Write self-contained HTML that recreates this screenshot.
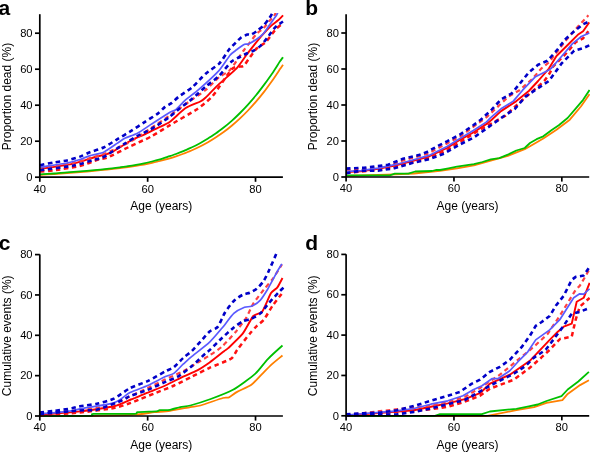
<!DOCTYPE html>
<html><head><meta charset="utf-8"><style>
html,body{margin:0;padding:0;background:#fff;width:590px;height:452px;overflow:hidden}
svg{display:block;will-change:transform}
</style></head><body>
<svg width="590" height="452" viewBox="0 0 590 452">
<defs>
<clipPath id="ca"><rect x="39.8" y="13" width="250" height="165"/></clipPath>
<clipPath id="cb"><rect x="346.1" y="13" width="250" height="165"/></clipPath>
<clipPath id="cc"><rect x="39.8" y="250" width="250" height="167"/></clipPath>
<clipPath id="cd"><rect x="346.1" y="250" width="250" height="167"/></clipPath>
</defs>
<rect width="590" height="452" fill="#fff"/>
<g clip-path="url(#ca)" fill="none" stroke-linejoin="round">
<path d="M40.0,174.8 C41.6,174.7 51.0,174.2 54.0,174.0 C57.0,173.8 64.2,173.2 67.1,173.0 C70.0,172.8 77.0,172.2 80.0,172.0 C83.0,171.8 91.2,171.1 94.2,170.8 C97.2,170.5 104.1,169.8 107.0,169.5 C109.9,169.2 117.7,168.3 120.0,168.0 C122.3,167.7 126.2,167.2 128.0,167.0 C129.8,166.8 134.2,166.1 136.0,165.8 C137.8,165.5 142.2,164.8 144.0,164.5 C145.8,164.2 150.2,163.3 152.0,162.9 C153.8,162.5 158.2,161.5 160.0,161.0 C161.8,160.5 166.2,159.3 168.0,158.8 C169.8,158.3 174.2,157.0 176.0,156.4 C177.8,155.8 182.2,154.2 184.0,153.5 C185.8,152.8 190.2,151.1 192.0,150.3 C193.8,149.5 198.2,147.4 200.0,146.5 C201.8,145.6 206.2,143.2 208.0,142.2 C209.8,141.2 214.2,138.5 216.0,137.3 C217.8,136.1 222.2,133.1 224.0,131.8 C225.8,130.5 230.2,127.0 232.0,125.5 C233.8,124.0 238.2,120.1 240.0,118.4 C241.8,116.7 246.2,112.4 248.0,110.5 C249.8,108.6 254.2,103.8 256.0,101.7 C257.8,99.6 262.2,94.2 264.0,91.9 C265.8,89.6 270.2,83.5 272.0,81.0 C273.8,78.5 278.8,70.9 280.0,69.1 C281.2,67.3 282.7,65.3 283.0,64.8" stroke="#ff8000" stroke-width="1.8"/>
<path d="M40.0,174.4 C41.6,174.3 51.0,173.7 54.0,173.5 C57.0,173.3 64.2,172.6 67.1,172.4 C70.0,172.2 77.0,171.6 80.0,171.4 C83.0,171.2 91.2,170.5 94.2,170.2 C97.2,169.9 104.1,169.2 107.0,168.9 C109.9,168.6 117.7,167.6 120.0,167.3 C122.3,167.0 126.2,166.5 128.0,166.2 C129.8,165.9 134.2,165.2 136.0,164.9 C137.8,164.6 142.2,163.8 144.0,163.4 C145.8,163.0 150.2,162.0 152.0,161.5 C153.8,161.0 158.2,159.8 160.0,159.3 C161.8,158.8 166.2,157.3 168.0,156.7 C169.8,156.1 174.2,154.7 176.0,154.0 C177.8,153.3 182.2,151.5 184.0,150.8 C185.8,150.1 190.2,148.1 192.0,147.3 C193.8,146.5 198.2,144.2 200.0,143.2 C201.8,142.2 206.2,139.6 208.0,138.5 C209.8,137.4 214.2,134.5 216.0,133.3 C217.8,132.1 222.2,128.7 224.0,127.3 C225.8,125.9 230.2,122.2 232.0,120.6 C233.8,119.0 238.2,114.8 240.0,113.0 C241.8,111.2 246.2,106.6 248.0,104.6 C249.8,102.6 254.2,97.5 256.0,95.3 C257.8,93.1 262.2,87.3 264.0,84.9 C265.8,82.5 270.2,76.3 272.0,73.7 C273.8,71.1 278.8,63.1 280.0,61.3 C281.2,59.5 282.7,57.7 283.0,57.2" stroke="#00c000" stroke-width="1.8"/>
<path d="M40.0,169.0 C43.7,168.4 67.5,164.9 73.6,163.6 C79.7,162.3 90.9,158.2 95.0,157.0 C99.1,155.8 106.3,154.7 110.3,152.9 C114.3,151.1 126.9,142.7 130.7,140.7 C134.5,138.7 141.2,136.0 144.2,134.6 C147.2,133.2 154.9,129.2 157.8,127.8 C160.7,126.4 166.9,123.9 170.0,121.7 C173.1,119.5 181.9,110.5 185.3,108.3 C188.7,106.1 198.0,102.7 200.3,101.5 C202.6,100.3 203.6,99.5 205.7,97.5 C207.8,95.5 215.8,87.1 219.2,83.9 C222.6,80.7 233.5,71.7 236.6,68.4 C239.7,65.1 245.1,56.7 247.3,53.8 C249.5,50.9 254.7,44.3 256.6,41.9 C258.5,39.5 262.7,34.5 264.5,32.6 C266.3,30.7 271.0,25.9 272.5,24.6 C274.0,23.3 276.6,21.6 277.8,20.6 C279.0,19.6 282.5,15.9 283.1,15.3" stroke="#ff0000" stroke-width="1.9"/>
<path d="M40.0,168.2 C43.7,167.6 67.5,164.1 73.6,162.8 C79.7,161.5 91.6,157.5 95.0,156.5 C98.4,155.5 100.0,155.7 104.0,154.0 C108.0,152.3 125.8,144.2 130.7,141.5 C135.6,138.8 144.1,132.6 148.3,129.8 C152.5,127.0 164.0,119.5 168.6,116.3 C173.2,113.1 185.9,103.9 190.0,101.0 C194.1,98.1 202.5,92.7 205.7,90.0 C208.9,87.3 216.5,79.3 219.2,77.1 C221.9,74.9 227.3,72.9 230.0,70.0 C232.7,67.1 240.3,55.0 243.3,51.0 C246.3,47.0 254.4,36.4 256.6,33.9 C258.8,31.4 261.7,30.1 263.2,28.6 C264.7,27.1 268.6,21.9 269.8,20.6 C271.0,19.3 273.1,17.6 273.8,16.6 C274.5,15.6 275.8,12.5 276.0,12.0" stroke="#ff4040" stroke-width="2.2" stroke-dasharray="4.5 3.5"/>
<path d="M40.0,171.5 C41.5,171.4 49.1,171.0 53.6,170.4 C58.1,169.8 75.8,167.0 80.7,165.8 C85.6,164.6 95.0,160.4 98.0,159.5 C101.0,158.6 104.0,159.0 107.6,157.5 C111.2,156.0 125.9,148.4 130.7,146.1 C135.5,143.8 146.6,138.9 151.0,136.6 C155.4,134.3 165.0,128.1 170.0,125.1 C175.0,122.1 191.5,112.9 196.2,109.7 C200.9,106.5 208.5,100.6 212.5,96.1 C216.5,91.6 228.6,72.3 232.0,69.0 C235.4,65.7 241.5,67.1 243.3,66.0 C245.1,64.9 247.1,61.0 248.6,59.1 C250.1,57.2 254.7,50.4 256.6,48.5 C258.5,46.6 263.8,44.0 265.9,41.9 C268.0,39.8 273.3,32.0 275.2,29.9 C277.1,27.8 282.1,23.8 283.0,23.0" stroke="#ff1010" stroke-width="2.5" stroke-dasharray="4.5 3.5"/>
<path d="M40.0,167.2 C43.0,166.7 62.7,163.9 67.1,163.0 C71.5,162.1 77.5,160.3 80.0,159.5 C82.5,158.7 87.4,156.4 90.0,155.6 C92.6,154.8 100.6,153.6 103.6,152.2 C106.6,150.8 114.7,145.0 117.1,143.4 C119.5,141.8 123.0,139.1 125.3,138.0 C127.6,136.9 134.6,134.7 137.5,133.2 C140.4,131.7 147.4,126.7 151.0,124.4 C154.6,122.1 167.2,113.8 170.0,112.2 C172.8,110.6 174.1,111.0 175.8,109.7 C177.5,108.4 182.7,102.5 185.3,100.2 C187.9,97.9 195.1,92.6 198.9,89.3 C202.7,86.0 215.7,74.1 219.2,70.3 C222.7,66.5 228.1,57.5 230.0,55.2 C231.9,52.9 235.0,51.0 236.6,49.8 C238.2,48.6 243.3,45.0 244.6,44.3 C245.9,43.6 247.3,44.5 248.6,43.9 C249.9,43.3 255.0,40.3 256.6,39.2 C258.2,38.1 261.7,35.5 263.2,33.9 C264.7,32.3 268.3,26.7 269.8,24.6 C271.3,22.5 275.6,16.7 276.5,15.3 C277.4,13.9 277.8,12.4 278.0,12.0" stroke="#5a5aff" stroke-width="1.7"/>
<path d="M40.0,165.2 C41.5,164.9 50.6,163.0 53.6,162.5 C56.6,162.0 64.1,161.1 67.1,160.4 C70.1,159.7 78.2,157.3 80.7,156.4 C83.2,155.5 87.5,153.2 90.0,152.2 C92.5,151.2 100.6,148.9 103.6,147.5 C106.6,146.1 114.1,141.1 117.1,139.3 C120.1,137.5 127.7,133.1 130.7,131.2 C133.7,129.3 141.2,124.4 144.2,122.4 C147.2,120.4 155.5,115.3 157.8,113.6 C160.1,111.9 163.4,108.1 165.0,106.9 C166.6,105.7 170.3,104.0 171.8,102.9 C173.3,101.8 176.3,98.5 178.6,96.8 C180.9,95.1 189.1,89.9 192.1,87.3 C195.1,84.7 202.7,76.3 205.7,73.7 C208.7,71.1 216.6,66.2 219.2,63.6 C221.8,61.0 227.5,51.7 228.7,50.0 C229.9,48.3 228.7,49.8 230.0,48.5 C231.3,47.2 238.7,39.4 240.6,37.9 C242.5,36.4 246.1,35.0 247.3,34.6 C248.5,34.2 250.2,35.0 251.2,34.6 C252.2,34.2 255.3,32.2 256.6,31.2 C257.9,30.2 261.9,27.2 263.2,25.9 C264.5,24.6 267.6,20.5 268.5,19.3 C269.4,18.1 270.7,16.1 271.2,15.3 C271.7,14.5 272.8,12.4 273.0,12.0" stroke="#0000c8" stroke-width="2.6" stroke-dasharray="4.5 3.5"/>
<path d="M40.0,170.2 C43.7,169.7 67.5,166.7 73.6,165.5 C79.7,164.3 91.7,160.5 95.0,159.6 C98.3,158.7 100.4,158.7 103.6,157.0 C106.8,155.3 120.1,146.4 123.9,144.1 C127.7,141.8 134.5,137.6 137.5,135.9 C140.5,134.2 147.5,131.2 151.0,129.2 C154.5,127.2 165.4,119.9 168.6,117.6 C171.8,115.3 177.3,110.4 179.9,108.3 C182.5,106.2 189.2,101.2 192.1,98.8 C195.0,96.4 202.7,89.2 205.7,86.6 C208.7,84.0 216.4,78.6 219.2,75.8 C222.0,73.0 228.9,63.9 231.3,61.8 C233.7,59.7 238.8,57.5 240.6,56.5 C242.4,55.5 245.8,53.9 247.3,53.2 C248.8,52.5 252.4,51.3 253.9,50.5 C255.4,49.7 259.0,47.3 260.5,45.9 C262.0,44.5 265.6,40.0 267.2,37.9 C268.8,35.8 273.4,29.1 275.2,27.3 C277.0,25.5 282.1,22.1 283.0,21.5" stroke="#0000c8" stroke-width="2.6" stroke-dasharray="4.5 3.5"/>
</g>
<g clip-path="url(#cb)" fill="none" stroke-linejoin="round">
<polyline points="346.0,176.0 394.8,174.4 414.0,173.5 440.0,170.8 457.0,168.3 473.9,165.4 490.8,160.7 507.8,155.9 524.7,149.2 530.0,146.3 543.3,138.5 556.5,129.7 569.8,119.7 580.9,106.5 589.5,94.2" stroke="#ff8000" stroke-width="1.8"/>
<polyline points="346.0,175.4 389.8,175.4 394.8,173.7 408.4,173.7 415.2,171.5 432.1,171.0 436.5,169.9 440.0,170.0 448.5,168.3 457.0,166.6 465.4,165.4 473.9,164.1 482.4,162.0 490.8,159.3 499.3,158.1 507.8,154.7 516.3,150.5 524.7,148.0 530.0,143.0 536.6,139.2 543.3,136.3 552.1,129.7 558.8,125.3 567.6,118.0 576.5,107.6 583.1,99.8 589.5,90.0" stroke="#00c000" stroke-width="1.8"/>
<polyline points="346.0,172.0 361.0,171.2 378.0,168.8 395.0,165.5 412.0,161.0 429.0,156.5 447.0,148.0 460.0,139.8 473.3,132.5 486.6,123.9 491.7,119.7 501.0,111.1 516.4,101.1 528.8,91.0 538.1,81.0 548.9,68.6 556.5,56.0 565.4,47.2 577.8,34.8 583.1,31.2 589.3,22.4" stroke="#ff0000" stroke-width="1.9"/>
<polyline points="346.0,170.0 364.0,169.0 388.0,166.0 403.0,160.5 427.0,154.0 447.0,143.5 460.0,136.5 486.6,117.2 490.0,114.0 508.7,96.4 519.5,90.2 531.9,79.4 541.2,68.6 548.9,62.4 565.4,41.0 577.8,26.8 588.4,15.3" stroke="#ff4040" stroke-width="2.2" stroke-dasharray="4.5 3.5"/>
<polyline points="346.0,173.0 378.0,170.0 395.0,167.0 412.0,162.5 429.0,158.0 447.0,150.0 460.0,142.0 479.9,129.8 505.0,116.0 521.1,101.1 531.9,91.8 544.3,81.0 549.7,73.2 553.0,66.6 565.4,54.2 576.0,41.9 583.1,38.3 588.4,31.2" stroke="#ff1010" stroke-width="2.5" stroke-dasharray="4.5 3.5"/>
<polyline points="346.0,171.5 361.0,170.7 378.0,168.1 395.0,164.7 412.0,160.2 429.0,155.4 447.0,146.4 460.0,138.5 473.3,130.5 486.6,121.9 490.1,118.1 501.0,108.8 513.3,101.1 522.6,90.2 535.0,77.1 548.9,70.1 551.2,68.4 561.9,56.0 572.5,43.6 581.3,36.5 589.3,33.0" stroke="#5a5aff" stroke-width="1.7"/>
<polyline points="346.0,168.6 364.0,167.8 388.0,164.7 403.0,158.8 418.6,155.1 427.0,152.0 439.0,145.3 447.0,141.4 460.0,134.5 473.3,125.2 480.8,119.7 491.7,109.6 501.0,99.5 511.8,93.3 519.5,84.0 528.8,72.4 538.1,64.7 547.4,60.8 556.5,50.7 565.4,39.2 574.2,31.2 583.1,24.2 589.3,21.5" stroke="#0000c8" stroke-width="2.6" stroke-dasharray="4.5 3.5"/>
<polyline points="346.0,173.2 361.0,170.7 378.0,170.7 395.0,168.1 412.0,163.1 429.0,159.2 444.0,153.7 460.0,144.4 473.3,137.8 486.6,128.5 501.0,118.1 514.9,108.8 525.7,96.4 535.0,90.2 548.9,81.0 561.9,63.1 574.2,50.7 583.1,48.1 589.3,45.4" stroke="#0000c8" stroke-width="2.6" stroke-dasharray="4.5 3.5"/>
</g>
<g clip-path="url(#cc)" fill="none" stroke-linejoin="round">
<path d="M39.7,416.5 C45.9,416.4 84.8,416.0 95.3,415.8 C105.8,415.6 127.6,415.1 134.2,414.7 C140.8,414.3 150.6,412.6 154.6,412.2 C158.6,411.8 166.0,411.4 170.0,410.8 C174.0,410.2 186.9,407.7 190.3,407.1 C193.7,406.5 196.9,406.5 200.5,405.5 C204.1,404.5 219.7,398.9 222.9,398.0 C226.1,397.1 227.4,398.1 229.0,397.4 C230.6,396.7 234.6,393.3 237.1,391.9 C239.6,390.5 248.7,386.6 251.4,384.7 C254.1,382.8 259.2,376.9 261.5,374.6 C263.8,372.3 269.4,366.5 271.7,364.4 C274.0,362.3 281.3,356.5 282.5,355.5" stroke="#ff8000" stroke-width="1.8"/>
<path d="M39.7,416.0 C45.3,416.0 84.2,416.1 90.2,415.9 C96.2,415.7 88.7,414.1 93.6,413.9 C98.5,413.7 129.3,414.1 134.2,413.9 C139.1,413.7 135.1,412.5 137.6,412.2 C140.1,411.9 153.8,411.6 156.3,411.4 C158.8,411.2 158.2,410.4 159.7,410.2 C161.2,410.0 167.7,410.1 170.0,409.8 C172.3,409.5 177.9,407.6 180.2,407.1 C182.5,406.6 186.9,406.4 190.3,405.5 C193.7,404.6 206.0,400.7 210.7,399.0 C215.4,397.3 228.0,392.6 233.0,389.8 C238.0,387.0 251.6,377.0 255.4,373.6 C259.2,370.2 264.6,362.4 267.6,359.3 C270.6,356.2 280.8,347.0 282.5,345.5" stroke="#00c000" stroke-width="1.8"/>
<path d="M39.7,415.0 C44.2,414.6 71.8,412.3 80.0,411.4 C88.2,410.4 108.2,407.6 113.9,406.3 C119.5,405.0 128.5,400.4 130.8,399.5 C133.2,398.6 133.4,398.6 135.3,397.9 C137.2,397.1 144.4,393.9 147.7,392.6 C151.0,391.2 161.5,387.3 165.4,385.5 C169.3,383.7 179.6,378.3 183.1,376.6 C186.6,375.0 194.3,372.0 197.3,370.4 C200.2,368.9 206.6,364.6 209.6,362.5 C212.7,360.3 222.2,352.6 224.3,351.0 C226.4,349.4 226.5,349.8 228.5,347.9 C230.5,346.0 239.9,337.2 242.7,333.7 C245.5,330.2 251.1,318.5 253.3,316.0 C255.5,313.5 260.2,314.2 262.2,311.6 C264.2,309.0 269.3,295.7 271.0,293.0 C272.7,290.3 275.9,289.4 277.2,287.7 C278.5,286.0 281.9,279.1 282.5,278.0" stroke="#ff0000" stroke-width="1.9"/>
<path d="M39.7,414.5 C45.2,413.9 81.5,409.9 88.8,409.0 C96.1,408.1 102.0,407.6 105.8,406.5 C109.6,405.4 118.0,401.5 122.7,399.5 C127.4,397.5 143.0,390.4 147.7,388.1 C152.4,385.9 161.5,381.2 165.4,379.3 C169.3,377.4 179.2,373.4 183.1,371.3 C187.0,369.3 197.8,362.5 200.8,360.7 C203.7,358.9 207.3,357.0 209.6,355.4 C212.0,353.8 219.2,349.1 222.1,346.5 C225.0,343.9 232.9,335.2 235.6,332.0 C238.3,328.8 244.2,321.0 246.2,317.8 C248.2,314.6 251.3,306.7 253.3,303.6 C255.3,300.5 261.7,292.3 263.9,289.5 C266.1,286.7 270.8,281.6 272.8,278.8 C274.8,276.0 280.9,266.1 281.9,264.5" stroke="#ff4040" stroke-width="2.2" stroke-dasharray="4.5 3.5"/>
<path d="M39.7,415.5 C44.2,415.2 71.8,413.4 80.0,412.5 C88.2,411.7 108.2,409.0 113.9,408.0 C119.5,406.9 128.1,403.8 130.8,402.9 C133.6,402.0 136.0,400.8 138.8,399.6 C141.7,398.5 152.6,394.1 156.5,392.6 C160.5,391.0 170.3,387.3 174.2,385.5 C178.2,383.7 188.0,378.6 191.9,376.6 C195.9,374.7 205.3,369.8 209.6,367.8 C214.0,365.8 227.9,360.7 231.0,358.7 C234.1,356.7 235.3,352.4 237.4,349.6 C239.5,346.8 247.6,336.3 249.8,333.7 C252.0,331.1 255.3,327.4 256.9,325.8 C258.5,324.2 262.1,321.9 263.9,319.6 C265.7,317.3 270.8,308.3 272.8,305.4 C274.8,302.5 280.6,295.2 281.6,293.9" stroke="#ff1010" stroke-width="2.5" stroke-dasharray="4.5 3.5"/>
<path d="M39.7,413.9 C43.3,413.6 67.4,411.4 71.9,410.8 C76.4,410.2 75.3,409.7 80.0,408.8 C84.7,407.9 108.3,404.7 113.9,402.9 C119.5,401.1 126.2,394.5 130.0,392.6 C133.8,390.6 143.8,387.3 147.7,385.5 C151.6,383.7 162.4,378.0 165.4,376.6 C168.3,375.3 172.3,374.5 174.2,373.1 C176.2,371.7 181.1,366.1 183.1,364.2 C185.1,362.4 189.0,358.7 191.9,356.3 C194.9,353.8 206.3,345.3 209.6,342.1 C213.0,339.0 219.4,331.2 222.1,328.0 C224.8,324.8 231.3,315.7 233.8,313.4 C236.3,311.1 242.5,308.0 244.5,307.2 C246.5,306.4 249.7,307.1 251.5,306.3 C253.3,305.5 258.6,302.0 260.4,300.1 C262.2,298.2 265.5,292.8 267.5,289.5 C269.5,286.2 276.5,272.9 278.1,270.0 C279.7,267.1 281.5,264.5 281.9,263.8" stroke="#5a5aff" stroke-width="1.7"/>
<path d="M39.7,412.5 C41.4,412.3 51.4,411.3 55.0,410.8 C58.6,410.3 69.1,408.8 71.9,408.3 C74.7,407.8 77.2,406.8 80.0,406.3 C82.8,405.8 93.2,404.6 96.9,403.7 C100.7,402.9 110.2,400.4 113.9,398.6 C117.6,396.9 126.2,390.1 130.0,388.1 C133.8,386.2 143.8,382.9 147.7,381.1 C151.6,379.2 162.4,372.9 165.4,371.3 C168.3,369.8 172.3,368.4 174.2,366.9 C176.2,365.4 181.1,359.8 183.1,358.1 C185.1,356.3 190.0,352.8 191.9,351.0 C193.9,349.1 198.8,343.4 200.8,341.2 C202.8,339.1 207.8,333.1 209.6,331.5 C211.5,329.9 216.0,329.0 217.7,326.9 C219.4,324.8 223.2,315.4 225.0,312.5 C226.8,309.6 231.8,303.0 233.8,301.0 C235.8,299.0 240.9,295.7 242.7,294.8 C244.5,293.9 248.2,293.4 249.8,292.7 C251.4,292.0 255.3,289.9 256.9,288.6 C258.5,287.3 262.5,282.7 263.9,280.6 C265.3,278.5 267.8,273.0 269.2,270.0 C270.6,267.0 275.5,255.6 276.3,253.8" stroke="#0000c8" stroke-width="2.6" stroke-dasharray="4.5 3.5"/>
<path d="M39.7,414.0 C44.2,413.6 73.6,411.0 80.0,410.5 C86.4,410.0 92.2,410.8 96.9,409.7 C101.7,408.5 118.7,401.8 122.4,400.3 C126.0,398.8 127.2,397.3 130.0,396.1 C132.8,394.9 143.8,391.5 147.7,389.9 C151.6,388.3 162.1,383.4 165.4,381.9 C168.7,380.5 174.8,378.4 177.8,376.6 C180.7,374.9 189.0,368.5 191.9,366.0 C194.9,363.6 202.4,356.3 204.3,354.5 C206.3,352.7 207.7,351.9 209.6,350.1 C211.6,348.3 219.3,340.5 222.0,338.0 C224.7,335.5 231.5,329.4 233.8,327.5 C236.1,325.6 240.7,322.3 242.7,321.3 C244.7,320.3 249.5,319.6 251.5,318.7 C253.5,317.8 258.4,315.2 260.4,313.4 C262.4,311.6 267.2,305.0 269.2,302.7 C271.2,300.4 276.5,294.7 278.1,293.0 C279.7,291.3 282.8,288.3 283.4,287.7" stroke="#0000c8" stroke-width="2.6" stroke-dasharray="4.5 3.5"/>
</g>
<g clip-path="url(#cd)" fill="none" stroke-linejoin="round">
<polyline points="346.0,416.5 485.0,416.3 516.4,410.2 534.1,407.2 546.5,402.8 562.4,400.1 567.7,393.9 580.1,385.1 588.9,380.3" stroke="#ff8000" stroke-width="1.8"/>
<polyline points="346.0,416.3 433.5,416.3 440.0,414.2 481.9,414.2 489.8,411.5 516.4,408.8 528.8,406.3 537.7,404.5 546.5,401.0 561.5,396.2 567.7,389.5 578.3,381.5 588.9,371.8" stroke="#00c000" stroke-width="1.8"/>
<polyline points="346.0,415.5 413.9,410.2 430.8,406.8 447.8,403.4 464.7,399.2 480.0,393.2 489.9,383.7 509.8,374.7 529.8,360.8 549.7,339.9 557.8,331.7 563.7,326.7 571.7,323.7 576.7,301.8 583.7,297.8 589.6,282.9" stroke="#ff0000" stroke-width="1.9"/>
<polyline points="346.0,415.0 430.8,405.5 447.8,402.0 464.7,397.0 480.0,388.0 499.9,374.7 533.7,346.9 547.7,333.9 559.8,315.7 575.7,289.8 579.7,285.9 585.7,275.9 589.6,268.9" stroke="#ff4040" stroke-width="2.2" stroke-dasharray="4.5 3.5"/>
<polyline points="346.0,416.0 430.8,409.3 447.8,406.8 464.7,401.7 480.0,395.8 489.9,388.7 513.8,379.7 529.8,367.8 541.2,357.7 549.7,349.8 560.0,339.0 571.7,336.7 575.7,319.7 579.7,306.8 589.6,297.8" stroke="#ff1010" stroke-width="2.5" stroke-dasharray="4.5 3.5"/>
<polyline points="346.0,415.0 394.8,411.2 413.9,408.5 430.8,404.2 447.8,400.8 463.0,395.8 473.2,389.8 482.0,385.7 491.9,378.7 497.9,378.7 509.8,370.8 519.8,359.8 527.8,351.8 535.7,339.9 549.7,329.9 559.8,319.7 573.7,297.8 579.7,293.8 583.7,294.2 589.6,288.8" stroke="#5a5aff" stroke-width="1.7"/>
<polyline points="346.0,414.2 364.3,413.2 380.0,412.7 396.9,410.2 413.9,405.9 430.8,400.8 447.8,395.8 459.7,392.0 471.5,383.9 480.0,379.7 489.9,371.8 499.9,366.8 509.8,359.8 521.8,346.9 529.8,335.9 535.7,325.9 541.7,322.0 549.7,316.0 555.8,305.8 563.7,295.8 571.7,279.9 575.7,276.9 583.7,275.5 589.6,266.9" stroke="#0000c8" stroke-width="2.6" stroke-dasharray="4.5 3.5"/>
<polyline points="346.0,415.5 396.9,414.4 413.9,411.9 430.8,408.5 447.8,404.2 464.7,400.0 480.0,391.5 489.9,385.7 513.8,373.7 525.8,365.8 533.7,357.8 545.7,349.8 551.8,341.8 563.7,325.7 571.7,313.7 579.7,311.8 587.6,308.8 589.5,307.0" stroke="#0000c8" stroke-width="2.6" stroke-dasharray="4.5 3.5"/>
</g>
<g stroke="#000" stroke-width="1.7" fill="none">
<line x1="39.8" y1="14.2" x2="39.8" y2="181.79999999999998"/>
<line x1="38.949999999999996" y1="177.2" x2="282.9" y2="177.2"/>
<line x1="35.0" y1="177.20" x2="39.8" y2="177.20"/>
<line x1="35.0" y1="141.20" x2="39.8" y2="141.20"/>
<line x1="35.0" y1="105.20" x2="39.8" y2="105.20"/>
<line x1="35.0" y1="69.20" x2="39.8" y2="69.20"/>
<line x1="35.0" y1="33.20" x2="39.8" y2="33.20"/>
<line x1="147.66" y1="177.2" x2="147.66" y2="181.79999999999998"/>
<line x1="255.52" y1="177.2" x2="255.52" y2="181.79999999999998"/>
</g>
<g font-family="Liberation Sans, sans-serif" font-size="10" fill="#000">
<text transform="translate(32.60,180.90) scale(1.12,1)" text-anchor="end">0</text>
<text transform="translate(32.60,144.90) scale(1.12,1)" text-anchor="end">20</text>
<text transform="translate(32.60,108.90) scale(1.12,1)" text-anchor="end">40</text>
<text transform="translate(32.60,72.90) scale(1.12,1)" text-anchor="end">60</text>
<text transform="translate(32.60,36.90) scale(1.12,1)" text-anchor="end">80</text>
<text transform="translate(39.80,192.60) scale(1.12,1)" text-anchor="middle">40</text>
<text transform="translate(147.66,192.60) scale(1.12,1)" text-anchor="middle">60</text>
<text transform="translate(255.52,192.60) scale(1.12,1)" text-anchor="middle">80</text>
</g>
<text x="161.3" y="209.6" text-anchor="middle" font-family="Liberation Sans, sans-serif" font-size="12">Age (years)</text>
<text transform="translate(10.5,96.5) rotate(-90)" text-anchor="middle" font-family="Liberation Sans, sans-serif" font-size="12">Proportion dead (%)</text>
<text x="-1.6" y="14.6" font-family="Liberation Sans, sans-serif" font-size="21" font-weight="bold">a</text>
<g stroke="#000" stroke-width="1.7" fill="none">
<line x1="346.1" y1="14.2" x2="346.1" y2="181.6"/>
<line x1="345.25" y1="177.0" x2="589.2" y2="177.0"/>
<line x1="341.3" y1="177.00" x2="346.1" y2="177.00"/>
<line x1="341.3" y1="141.00" x2="346.1" y2="141.00"/>
<line x1="341.3" y1="105.00" x2="346.1" y2="105.00"/>
<line x1="341.3" y1="69.00" x2="346.1" y2="69.00"/>
<line x1="341.3" y1="33.00" x2="346.1" y2="33.00"/>
<line x1="453.96" y1="177.0" x2="453.96" y2="181.6"/>
<line x1="561.82" y1="177.0" x2="561.82" y2="181.6"/>
</g>
<g font-family="Liberation Sans, sans-serif" font-size="10" fill="#000">
<text transform="translate(338.90,180.70) scale(1.12,1)" text-anchor="end">0</text>
<text transform="translate(338.90,144.70) scale(1.12,1)" text-anchor="end">20</text>
<text transform="translate(338.90,108.70) scale(1.12,1)" text-anchor="end">40</text>
<text transform="translate(338.90,72.70) scale(1.12,1)" text-anchor="end">60</text>
<text transform="translate(338.90,36.70) scale(1.12,1)" text-anchor="end">80</text>
<text transform="translate(346.10,192.40) scale(1.12,1)" text-anchor="middle">40</text>
<text transform="translate(453.96,192.40) scale(1.12,1)" text-anchor="middle">60</text>
<text transform="translate(561.82,192.40) scale(1.12,1)" text-anchor="middle">80</text>
</g>
<text x="467.6" y="209.6" text-anchor="middle" font-family="Liberation Sans, sans-serif" font-size="12">Age (years)</text>
<text transform="translate(316.7,96.5) rotate(-90)" text-anchor="middle" font-family="Liberation Sans, sans-serif" font-size="12">Proportion dead (%)</text>
<text x="305.2" y="14.6" font-family="Liberation Sans, sans-serif" font-size="21" font-weight="bold">b</text>
<g stroke="#000" stroke-width="1.7" fill="none">
<line x1="39.8" y1="254.4" x2="39.8" y2="420.6"/>
<line x1="38.949999999999996" y1="416.0" x2="282.9" y2="416.0"/>
<line x1="35.0" y1="416.00" x2="39.8" y2="416.00"/>
<line x1="35.0" y1="375.65" x2="39.8" y2="375.65"/>
<line x1="35.0" y1="335.30" x2="39.8" y2="335.30"/>
<line x1="35.0" y1="294.95" x2="39.8" y2="294.95"/>
<line x1="35.0" y1="254.60" x2="39.8" y2="254.60"/>
<line x1="147.66" y1="416.0" x2="147.66" y2="420.6"/>
<line x1="255.52" y1="416.0" x2="255.52" y2="420.6"/>
</g>
<g font-family="Liberation Sans, sans-serif" font-size="10" fill="#000">
<text transform="translate(32.60,419.70) scale(1.12,1)" text-anchor="end">0</text>
<text transform="translate(32.60,379.35) scale(1.12,1)" text-anchor="end">20</text>
<text transform="translate(32.60,339.00) scale(1.12,1)" text-anchor="end">40</text>
<text transform="translate(32.60,298.65) scale(1.12,1)" text-anchor="end">60</text>
<text transform="translate(32.60,258.30) scale(1.12,1)" text-anchor="end">80</text>
<text transform="translate(39.80,431.40) scale(1.12,1)" text-anchor="middle">40</text>
<text transform="translate(147.66,431.40) scale(1.12,1)" text-anchor="middle">60</text>
<text transform="translate(255.52,431.40) scale(1.12,1)" text-anchor="middle">80</text>
</g>
<text x="161.3" y="448.8" text-anchor="middle" font-family="Liberation Sans, sans-serif" font-size="12">Age (years)</text>
<text transform="translate(10.5,335.8) rotate(-90)" text-anchor="middle" font-family="Liberation Sans, sans-serif" font-size="12">Cumulative events (%)</text>
<text x="-1.2" y="250.3" font-family="Liberation Sans, sans-serif" font-size="21" font-weight="bold">c</text>
<g stroke="#000" stroke-width="1.7" fill="none">
<line x1="346.1" y1="254.2" x2="346.1" y2="420.40000000000003"/>
<line x1="345.25" y1="415.8" x2="589.2" y2="415.8"/>
<line x1="341.3" y1="415.80" x2="346.1" y2="415.80"/>
<line x1="341.3" y1="375.45" x2="346.1" y2="375.45"/>
<line x1="341.3" y1="335.10" x2="346.1" y2="335.10"/>
<line x1="341.3" y1="294.75" x2="346.1" y2="294.75"/>
<line x1="341.3" y1="254.40" x2="346.1" y2="254.40"/>
<line x1="453.96" y1="415.8" x2="453.96" y2="420.40000000000003"/>
<line x1="561.82" y1="415.8" x2="561.82" y2="420.40000000000003"/>
</g>
<g font-family="Liberation Sans, sans-serif" font-size="10" fill="#000">
<text transform="translate(338.90,419.50) scale(1.12,1)" text-anchor="end">0</text>
<text transform="translate(338.90,379.15) scale(1.12,1)" text-anchor="end">20</text>
<text transform="translate(338.90,338.80) scale(1.12,1)" text-anchor="end">40</text>
<text transform="translate(338.90,298.45) scale(1.12,1)" text-anchor="end">60</text>
<text transform="translate(338.90,258.10) scale(1.12,1)" text-anchor="end">80</text>
<text transform="translate(346.10,431.20) scale(1.12,1)" text-anchor="middle">40</text>
<text transform="translate(453.96,431.20) scale(1.12,1)" text-anchor="middle">60</text>
<text transform="translate(561.82,431.20) scale(1.12,1)" text-anchor="middle">80</text>
</g>
<text x="467.6" y="448.8" text-anchor="middle" font-family="Liberation Sans, sans-serif" font-size="12">Age (years)</text>
<text transform="translate(316.7,335.8) rotate(-90)" text-anchor="middle" font-family="Liberation Sans, sans-serif" font-size="12">Cumulative events (%)</text>
<text x="305.2" y="250.3" font-family="Liberation Sans, sans-serif" font-size="21" font-weight="bold">d</text>
</svg>
</body></html>
